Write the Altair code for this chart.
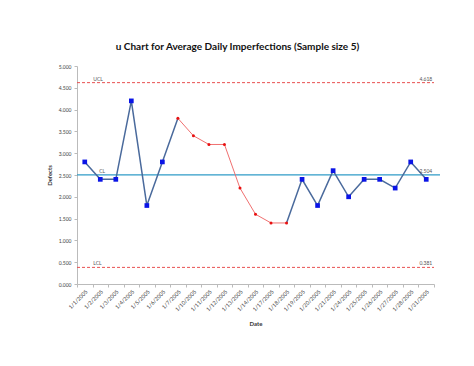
import altair as alt
import pandas as pd

dates = ["1/1/2005", "1/2/2005", "1/3/2005", "1/4/2005", "1/5/2005", "1/6/2005",
         "1/7/2005", "1/10/2005", "1/11/2005", "1/12/2005", "1/13/2005", "1/14/2005",
         "1/17/2005", "1/18/2005", "1/19/2005", "1/20/2005", "1/21/2005", "1/24/2005",
         "1/25/2005", "1/26/2005", "1/27/2005", "1/28/2005", "1/31/2005"]
defects = [2.8, 2.4, 2.4, 4.2, 1.8, 2.8, 3.8, 3.4, 3.2, 3.2, 2.2, 1.6,
           1.4, 1.4, 2.4, 1.8, 2.6, 2.0, 2.4, 2.4, 2.2, 2.8, 2.4]
# indices in the highlighted (run below/above) section
red_start, red_end = 6, 13

ucl, cl, lcl = 4.618, 2.504, 0.381
limit_names = ["UCL", "CL", "LCL"]
limit_values = [ucl, cl, lcl]
limit_labels = ["4.618", "2.504", "0.381"]
y_ticks = [0.0, 0.5, 1.0, 1.5, 2.0, 2.5, 3.0, 3.5, 4.0, 4.5, 5.0]

rows = []
for i, (d, v) in enumerate(zip(dates, defects)):
    rows.append({"date": d, "value": v, "i": i})
df = pd.DataFrame(rows)

blue_rows = []
for i, (d, v) in enumerate(zip(dates, defects)):
    if i <= red_start:
        blue_rows.append({"date": d, "value": v, "seg": "a", "i": i})
    if i >= red_end:
        blue_rows.append({"date": d, "value": v, "seg": "b", "i": i})
blue_df = pd.DataFrame(blue_rows)
red_df = df[(df.i >= red_start) & (df.i <= red_end)]
sq_df = df[(df.i < red_start) | (df.i > red_end)]

limits = pd.DataFrame({"name": limit_names, "value": limit_values, "label": limit_labels,
                       "date": [dates[1]] * 3, "last": [dates[-1]] * 3})

W, H = 357, 218
FONT = "Lato"

xscale = alt.Scale(type="band", domain=dates, paddingInner=0, paddingOuter=0)
yscale = alt.Scale(domain=[0, 5])

x_axis = alt.Axis(title="Date", labelAngle=-45, labelFontSize=5.5, labelColor="#444444",
                  titleFontSize=6, titleColor="#333333", titlePadding=8,
                  domainColor="#BBBBBB", tickColor="#BBBBBB", tickSize=3,
                  tickBand="extent", grid=False, labelPadding=2, labelOverlap=False)
y_axis = alt.Axis(title="Defects", format=".3f", values=y_ticks,
                  labelFontSize=5, labelColor="#444444", titleFontSize=6,
                  titleColor="#333333", titlePadding=6, domainColor="#BBBBBB",
                  tickColor="#BBBBBB", tickSize=3, grid=False, labelPadding=3,
                  labelOverlap=False)

base_x = alt.X("date:N", sort=dates, scale=xscale, axis=x_axis)
base_y = alt.Y("value:Q", scale=yscale, axis=y_axis)

cl_rule = alt.Chart(limits[limits.name == "CL"]).mark_rule(color="#2F9BC7", strokeWidth=1.3).encode(
    y=base_y, x=alt.value(0), x2=alt.value(W + 6))
lim_rules = alt.Chart(limits[limits.name != "CL"]).mark_rule(
    color="#E85050", strokeWidth=1, strokeDash=[3, 2]).encode(y=base_y, x=alt.value(0), x2=alt.value(W))

blue_line = alt.Chart(blue_df).mark_line(color="#4A6A9C", strokeWidth=1.5).encode(
    x=base_x, y=base_y, detail="seg:N", order="i:Q")
red_line = alt.Chart(red_df).mark_line(color="#F07070", strokeWidth=1).encode(
    x=base_x, y=base_y, order="i:Q")
squares = alt.Chart(sq_df).mark_point(shape="square", filled=True, color="#0A14E6", size=22, opacity=1).encode(
    x=base_x, y=base_y)
dots = alt.Chart(red_df).mark_point(shape="circle", filled=True, color="#E81010", size=9, opacity=1).encode(
    x=base_x, y=base_y)

name_text_a = alt.Chart(limits[limits.name != "CL"]).mark_text(
    fontSize=5, color="#555555", align="left", baseline="bottom", font=FONT, dx=-7, dy=-1).encode(
    x=base_x, y=base_y, text="name:N")
name_text_b = alt.Chart(limits[limits.name == "CL"]).mark_text(
    fontSize=5, color="#555555", align="left", baseline="bottom", font=FONT, dx=-1, dy=-1).encode(
    x=base_x, y=base_y, text="name:N")
val_text = alt.Chart(limits).mark_text(fontSize=5, color="#555555", align="right", baseline="bottom",
                                       font=FONT, dx=6, dy=-1).encode(
    x=alt.X("last:N", sort=dates, scale=xscale, axis=x_axis), y=base_y, text="label:N")

chart = alt.layer(cl_rule, lim_rules, blue_line, red_line, squares, dots,
                  name_text_a, name_text_b, val_text).properties(
    width=W, height=H,
    title=alt.TitleParams("u Chart for Average Daily Imperfections (Sample size 5)",
                          fontSize=10, font=FONT, fontWeight="bold", color="#111111", offset=12, dx=-18),
    autosize=alt.AutoSizeParams(type="none"),
    padding={"left": 69, "top": 58, "right": 32, "bottom": 74},
).configure_view(stroke=None).configure_axis(labelFont=FONT, titleFont=FONT)

chart.save("out.html", embed_options={"renderer": "svg", "actions": False})
